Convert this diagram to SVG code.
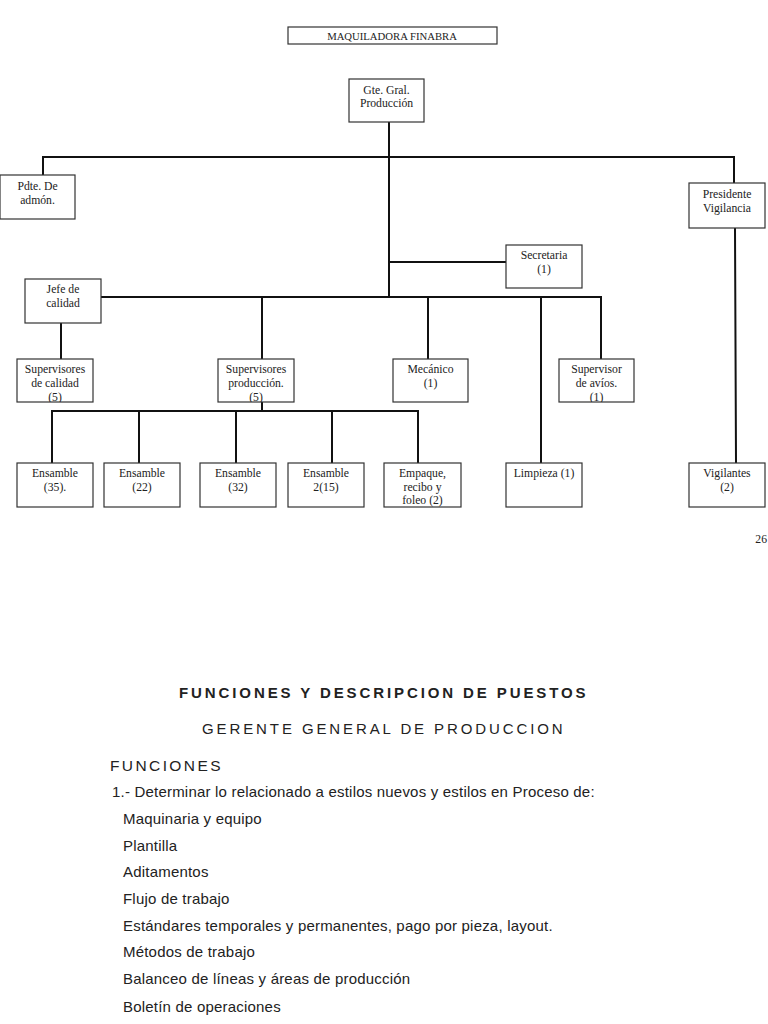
<svg xmlns="http://www.w3.org/2000/svg" width="768" height="1024" viewBox="0 0 768 1024">
<style>
.bx{fill:#fff;stroke:#333;stroke-width:1.2}
.t{font-family:"Liberation Serif","Times New Roman",serif;font-size:11.7px;fill:#222;text-anchor:middle}
.c{stroke:#111;stroke-width:2;fill:none;stroke-linecap:square}
.h{font-family:"Liberation Sans",Arial,sans-serif;fill:#222}
.b{font-family:"Liberation Sans",Arial,sans-serif;font-size:15px;letter-spacing:0.2px;fill:#222}
</style>
<defs>
<clipPath id="cSC"><rect x="17" y="359" width="76" height="43"/></clipPath>
<clipPath id="cSP"><rect x="218" y="359" width="76" height="43"/></clipPath>
<clipPath id="cSA"><rect x="559" y="359" width="75" height="43"/></clipPath>
<clipPath id="cEM"><rect x="384" y="463" width="77" height="44"/></clipPath>
</defs>
<rect width="768" height="1024" fill="#fff"/>
<g id="connectors">
<path class="c" d="M389,123V297M43,175V157H734V183M735,228L736,463M389,262H506M101,297H601M262,297V359M428,297V359M541,297V463M601,297V359M61,323V359M262,402V411M52,463V411H418V463M139,411V463M236,411V463M332,411V463"/>
</g>
<g id="title"><rect class="bx" x="288" y="27" width="209" height="17"/><text class="t" x="392" y="39.5" style="font-size:10.7px">MAQUILADORA FINABRA</text></g>
<g id="gte"><rect class="bx" x="349" y="79" width="75" height="43"/><text class="t" x="386.5" y="94">Gte. Gral.</text><text class="t" x="386.5" y="107">Producción</text></g>
<g id="pdte"><rect class="bx" x="0" y="175" width="75" height="44"/><text class="t" x="37.5" y="190">Pdte. De</text><text class="t" x="37.5" y="204">admón.</text></g>
<g id="presidente"><rect class="bx" x="689" y="183" width="76" height="45"/><text class="t" x="727" y="198">Presidente</text><text class="t" x="727" y="212">Vigilancia</text></g>
<g id="secretaria"><rect class="bx" x="506" y="245" width="76" height="43"/><text class="t" x="544" y="259">Secretaria</text><text class="t" x="544" y="273">(1)</text></g>
<g id="jefe"><rect class="bx" x="25" y="279" width="76" height="44"/><text class="t" x="63" y="293">Jefe de</text><text class="t" x="63" y="307">calidad</text></g>
<g id="supcal"><rect class="bx" x="17" y="359" width="76" height="43"/><g clip-path="url(#cSC)"><text class="t" x="55" y="373">Supervisores</text><text class="t" x="55" y="387">de calidad</text><text class="t" x="55" y="401">(5)</text></g></g>
<g id="supprod"><rect class="bx" x="218" y="359" width="76" height="43"/><g clip-path="url(#cSP)"><text class="t" x="256" y="373">Supervisores</text><text class="t" x="256" y="387">producción.</text><text class="t" x="256" y="401">(5)</text></g></g>
<g id="mecanico"><rect class="bx" x="393" y="359" width="75" height="43"/><text class="t" x="430.5" y="373">Mecánico</text><text class="t" x="430.5" y="387">(1)</text></g>
<g id="supavios"><rect class="bx" x="559" y="359" width="75" height="43"/><g clip-path="url(#cSA)"><text class="t" x="596.5" y="373">Supervisor</text><text class="t" x="596.5" y="387">de avíos.</text><text class="t" x="596.5" y="401">(1)</text></g></g>
<g id="ens35"><rect class="bx" x="17" y="463" width="76" height="44"/><text class="t" x="55" y="477">Ensamble</text><text class="t" x="55" y="491">(35).</text></g>
<g id="ens22"><rect class="bx" x="104" y="463" width="76" height="44"/><text class="t" x="142" y="477">Ensamble</text><text class="t" x="142" y="491">(22)</text></g>
<g id="ens32"><rect class="bx" x="200" y="463" width="76" height="44"/><text class="t" x="238" y="477">Ensamble</text><text class="t" x="238" y="491">(32)</text></g>
<g id="ens215"><rect class="bx" x="288" y="463" width="76" height="44"/><text class="t" x="326" y="477">Ensamble</text><text class="t" x="326" y="491">2(15)</text></g>
<g id="empaque"><rect class="bx" x="384" y="463" width="77" height="44"/><g clip-path="url(#cEM)"><text class="t" x="422.5" y="477">Empaque,</text><text class="t" x="422.5" y="490.5">recibo y</text><text class="t" x="422.5" y="504">foleo (2)</text></g></g>
<g id="limpieza"><rect class="bx" x="506" y="463" width="76" height="44"/><text class="t" x="544" y="477">Limpieza (1)</text></g>
<g id="vigilantes"><rect class="bx" x="689" y="463" width="76" height="44"/><text class="t" x="727" y="477">Vigilantes</text><text class="t" x="727" y="491">(2)</text></g>
<text class="t" x="767" y="543" style="text-anchor:end">26</text>
<text class="h" x="179" y="698" style="font-size:15px;font-weight:bold;letter-spacing:2.9px">FUNCIONES Y DESCRIPCION DE PUESTOS</text>
<text class="h" x="202" y="734" style="font-size:15px;letter-spacing:2.9px">GERENTE GENERAL DE PRODUCCION</text>
<text class="h" x="110" y="771" style="font-size:15.5px;letter-spacing:2.4px">FUNCIONES</text>
<text class="b" x="112" y="797">1.- Determinar lo relacionado a estilos nuevos y estilos en Proceso de:</text>
<text class="b" x="123" y="824">Maquinaria y equipo</text>
<text class="b" x="123" y="851">Plantilla</text>
<text class="b" x="123" y="877">Aditamentos</text>
<text class="b" x="123" y="904">Flujo de trabajo</text>
<text class="b" x="123" y="931">Estándares temporales y permanentes, pago por pieza, layout.</text>
<text class="b" x="123" y="957">Métodos de trabajo</text>
<text class="b" x="123" y="984">Balanceo de líneas y áreas de producción</text>
<text class="b" x="123" y="1012">Boletín de operaciones</text>
</svg>
